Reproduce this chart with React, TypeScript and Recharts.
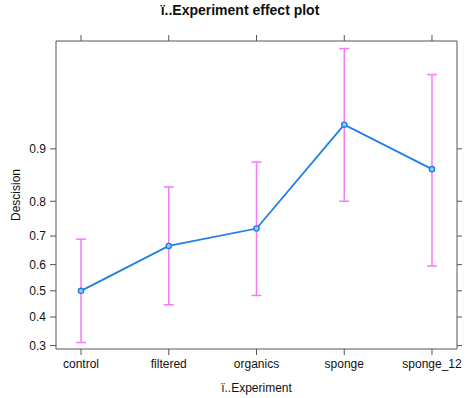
import React from 'react';
import { ComposedChart, Line, XAxis, YAxis, ErrorBar } from 'recharts';

const categories = ['control', 'filtered', 'organics', 'sponge', 'sponge_12'];
const fitValues = [0.5, 0.667, 0.724, 0.929, 0.868];
const lowerValues = [0.31, 0.446, 0.482, 0.8, 0.595];
const upperValues = [0.69, 0.833, 0.88, 0.977, 0.966];
const yTickValues = [0.3, 0.4, 0.5, 0.6, 0.7, 0.8, 0.9];
const yLimits = [0.289, 0.9795];
const xLimits = [0.715, 5.285];
const xTickValues = [1, 2, 3, 4, 5];

const title = 'ï..Experiment effect plot';
const xTitle = 'ï..Experiment';
const yTitle = 'Descision';

const logit = (p: number) => Math.log(p / (1 - p));
const invLogit = (v: number) => 1 / (1 + Math.exp(-v));

const data = categories.map((c, i) => {
  const f = logit(fitValues[i]);
  return {
    x: i + 1,
    name: c,
    y: f,
    err: [f - logit(lowerValues[i]), logit(upperValues[i]) - f],
  };
});

const yDomain = [logit(yLimits[0]), logit(yLimits[1])];
const yTicks = yTickValues.map(logit);

const FONT = '"Liberation Sans", Arial, sans-serif';
const AXIS = '#555555';
const PINK = '#f57af5';
const BLUE = '#1f7fe6';

export default function App() {
  return (
    <div style={{ position: 'absolute', left: 0, top: 0 }}>
      <ComposedChart
        width={474}
        height={398}
        data={data}
        margin={{ top: 31, right: 0, bottom: 0, left: 0 }}
        style={{ fontFamily: FONT }}
      >
        <XAxis
          xAxisId="bottom"
          dataKey="x"
          type="number"
          domain={xLimits}
          ticks={xTickValues}
          allowDataOverflow
          height={49}
          stroke={AXIS}
          tickSize={6}
          tickMargin={4}
          tick={{ fill: '#111', fontSize: 12, fontFamily: FONT }}
          tickFormatter={(v: number) => categories[v - 1] ?? ''}
          label={{
            content: (props: any) => {
              const vb = props.viewBox;
              return (
                <text
                  x={vb.x + vb.width / 2}
                  y={392}
                  textAnchor="middle"
                  fontSize={12}
                  fontFamily={FONT}
                  fill="#111"
                >
                  {xTitle}
                </text>
              );
            },
          }}
        />
        <XAxis
          xAxisId="top"
          dataKey="x"
          type="number"
          orientation="top"
          domain={xLimits}
          ticks={xTickValues}
          allowDataOverflow
          height={10}
          stroke={AXIS}
          tickSize={6}
          tickFormatter={() => ''}
          label={{
            content: () => (
              <text
                x={240}
                y={15}
                textAnchor="middle"
                fontSize={14}
                fontWeight="bold"
                fontFamily={FONT}
                fill="#111"
              >
                {title}
              </text>
            ),
          }}
        />
        <YAxis
          yAxisId="left"
          type="number"
          domain={yDomain}
          ticks={yTicks}
          allowDataOverflow
          width={56}
          stroke={AXIS}
          tickSize={6}
          tickMargin={4}
          tick={{ fill: '#111', fontSize: 12, fontFamily: FONT }}
          tickFormatter={(v: number) => invLogit(v).toFixed(1)}
          label={{
            content: (props: any) => {
              const vb = props.viewBox;
              const cx = 16;
              const cy = vb.y + vb.height / 2;
              return (
                <text
                  x={cx}
                  y={cy}
                  transform={`rotate(-90, ${cx}, ${cy})`}
                  textAnchor="middle"
                  dominantBaseline="central"
                  fontSize={12}
                  fontFamily={FONT}
                  fill="#111"
                >
                  {yTitle}
                </text>
              );
            },
          }}
        />
        <YAxis
          yAxisId="right"
          orientation="right"
          type="number"
          domain={yDomain}
          ticks={yTicks}
          allowDataOverflow
          width={17}
          stroke={AXIS}
          tickSize={5}
          tickFormatter={() => ''}
        />
        <Line
          xAxisId="bottom"
          yAxisId="left"
          dataKey="y"
          stroke={BLUE}
          strokeWidth={1.8}
          dot={{ r: 2.6, stroke: BLUE, strokeWidth: 1.4, fill: '#9cc8f5' }}
          activeDot={false}
          isAnimationActive={false}
        >
          <ErrorBar
            dataKey="err"
            direction="y"
            width={5}
            stroke={PINK}
            strokeWidth={1.5}
            isAnimationActive={false}
          />
        </Line>
      </ComposedChart>
    </div>
  );
}
